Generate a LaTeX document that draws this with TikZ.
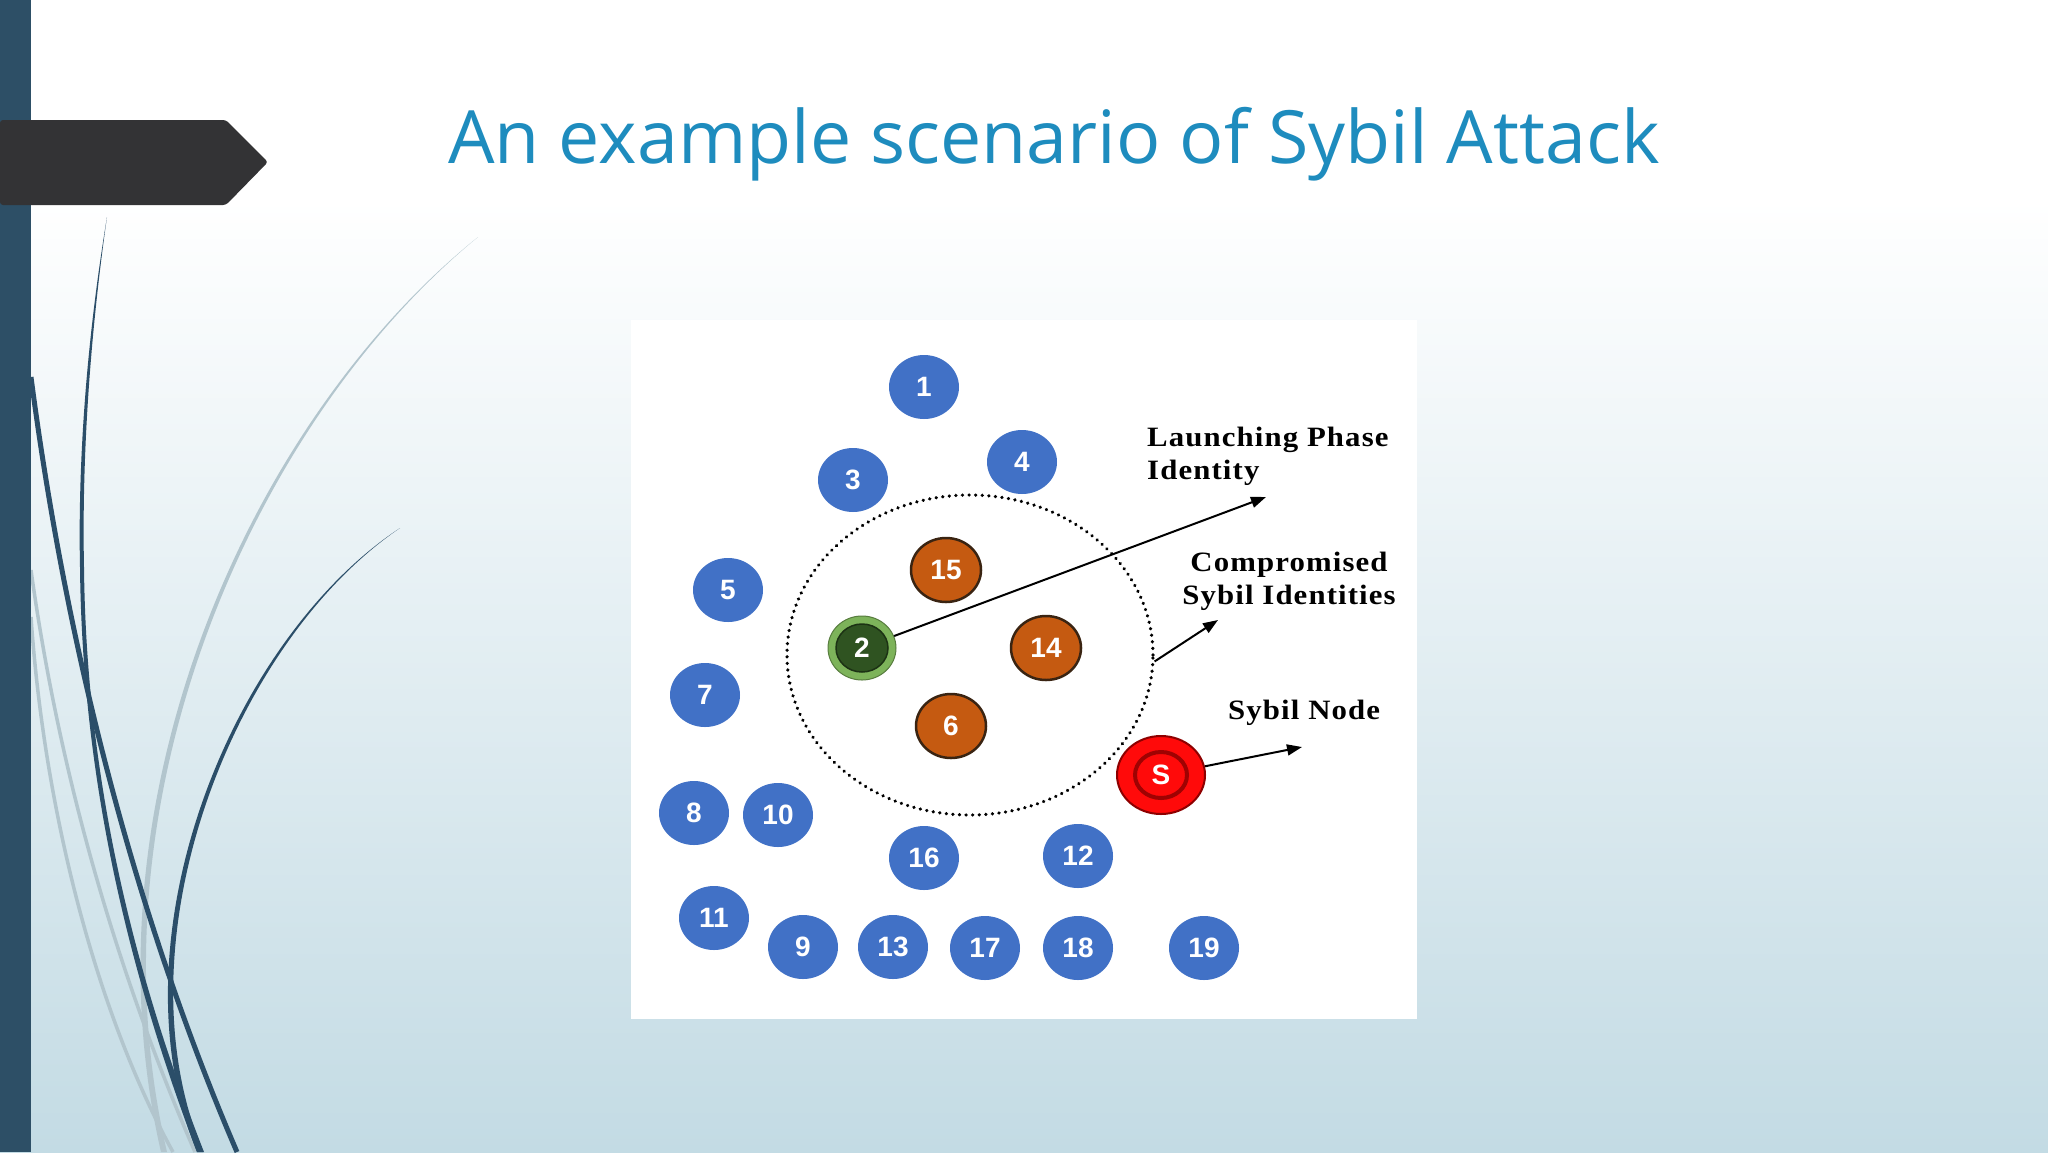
\documentclass[tikz,border=0pt]{standalone}
\usepackage{fontspec}
\usetikzlibrary{arrows.meta,shapes.geometric}
\setmainfont{Liberation Serif}
\newfontfamily\titlefont{Open Sans}
\newfontfamily\numfont{Liberation Sans}
\newfontfamily\lblfont{Liberation Serif}[LetterSpace=4,FakeStretch=1.1]
\definecolor{bgb}{HTML}{C3DBE4}
\definecolor{barc}{HTML}{2D4F66}
\definecolor{bannerc}{HTML}{333335}
\definecolor{curvec}{HTML}{2B4E69}
\definecolor{lightc}{HTML}{B2C5CD}
\definecolor{titlec}{HTML}{1E8CBE}
\definecolor{nblue}{HTML}{4171C6}
\definecolor{norange}{HTML}{C55A11}
\definecolor{nborder}{HTML}{3A2412}
\definecolor{ngreen}{HTML}{2F5321}
\definecolor{nlgreen}{HTML}{7DB35A}
\definecolor{nred}{HTML}{FF0A0A}
\definecolor{ndred}{HTML}{8E0000}
\tikzset{
  numtext/.style={text=white,font=\numfont\bfseries\fontsize{28}{30}\selectfont},
  bnode/.style={ellipse,fill=nblue,minimum width=70pt,minimum height=64pt,inner sep=0pt,numtext},
  onode/.style={ellipse,fill=norange,draw=nborder,line width=2.5pt,minimum width=70pt,minimum height=64pt,inner sep=0pt,numtext},
  lbl/.style={align=left,anchor=north west,inner sep=0pt,font=\lblfont\bfseries\fontsize{28}{33}\selectfont},
  arr/.style={line width=2pt,-{Triangle[length=15pt,width=11pt]}},
  curve/.style={curvec,line width=5pt},
  lcurve/.style={lightc,line width=3.5pt}
}
\begin{document}
\begin{tikzpicture}[x=1pt,y=-1pt]
\useasboundingbox (0,0) rectangle (2048,1152);
% background
\fill[white] (0,0) rectangle (2048,200);
\shade[top color=white,bottom color=bgb] (0,199) rectangle (2048,1152);
% decorative curves (light)
\fill[lightc] (478,237) .. controls (250,420) and (80,800) .. (161,1152) -- (167,1152) .. controls (85,800) and (254,421) .. (478,237) -- cycle;
\draw[lcurve] (31,570) .. controls (60,780) and (120,980) .. (195,1152);
\draw[lcurve] (31,617) .. controls (45,820) and (100,1020) .. (173,1152);
% decorative curves (dark)
\fill[curvec] (107,217) .. controls (85,350) and (78,470) .. (80,567) .. controls (82,760) and (120,950) .. (197,1152) -- (204,1152) .. controls (125,950) and (86,760) .. (84,567) .. controls (82,470) and (88,350) .. (107,217) -- cycle;
\draw[curve] (31,377) .. controls (60,600) and (120,880) .. (237,1152);
\fill[curvec] (400,528) .. controls (230,640) and (110,940) .. (197,1152) -- (203,1152) .. controls (115,940) and (234,641) .. (400,528) -- cycle;
% left bar and banner
\fill[barc] (0,0) rectangle (31,1152);
\fill[bannerc,rounded corners=3pt] (0,120) -- (226,120) -- (268,162) -- (226,205) -- (0,205) -- cycle;
% title
\node[titlec,font=\titlefont\fontsize{73.5}{84}\selectfont,anchor=base] (title) at (1054,163) {An example scenario of Sybil Attack};
% white panel
\fill[white] (631,320) rectangle (1417,1019);
% group ellipse
\node[ellipse,draw,dash pattern=on 0.1pt off 6.5pt,line cap=round,line width=3.5pt,minimum width=366pt,minimum height=320pt,inner sep=0pt] (grp) at (970,655) {};
% blue nodes
\node[bnode] (n1) at (924,387) {1};
\node[bnode] (n3) at (853,480) {3};
\node[bnode] (n4) at (1022,462) {4};
\node[bnode] (n5) at (728,590) {5};
\node[bnode] (n7) at (705,695) {7};
\node[bnode] (n8) at (694,813) {8};
\node[bnode] (n10) at (778,815) {10};
\node[bnode] (n16) at (924,858) {16};
\node[bnode] (n12) at (1078,856) {12};
\node[bnode] (n11) at (714,918) {11};
\node[bnode] (n9) at (803,947) {9};
\node[bnode] (n13) at (893,947) {13};
\node[bnode] (n17) at (985,948) {17};
\node[bnode] (n18) at (1078,948) {18};
\node[bnode] (n19) at (1204,948) {19};
% compromised nodes
\node[onode] (n15) at (946,570) {15};
\node[onode] (n14) at (1046,648) {14};
\node[onode] (n6) at (951,726) {6};
% launching node
\node[ellipse,fill=nlgreen,draw=nlgreen!70!black,line width=1pt,minimum width=68pt,minimum height=64pt,inner sep=0pt] (n2) at (862,648) {};
\node[ellipse,fill=ngreen,draw=ngreen!60!black,line width=1.5pt,minimum width=52pt,minimum height=48pt,inner sep=0pt,numtext] (n2in) at (862,648) {2};
% sybil node
\node[ellipse,fill=nred,draw=ndred,line width=2pt,minimum width=88pt,minimum height=78pt,inner sep=0pt] (sy) at (1161,775) {};
\node[ellipse,draw=ndred!85!nred,line width=4pt,minimum width=52pt,minimum height=46pt,inner sep=0pt,numtext] (syin) at (1161,775) {S};
% labels
\node[lbl] (l1) at (1147,427) {Launching Phase\\Identity};
\node[lbl,align=center,anchor=north] (l2) at (1289,552) {Compromised\\Sybil Identities};
\node[lbl] (l3) at (1228,700) {Sybil Node};
% arrows
\coordinate (t1) at (1266,497);
\coordinate (t2) at (1218,620);
\coordinate (t3) at (1302,747);
\draw[arr] (n2) -- (t1);
\draw[arr] (grp.-2) -- (t2);
\draw[arr] (sy) -- (t3);
\end{tikzpicture}
\end{document}
